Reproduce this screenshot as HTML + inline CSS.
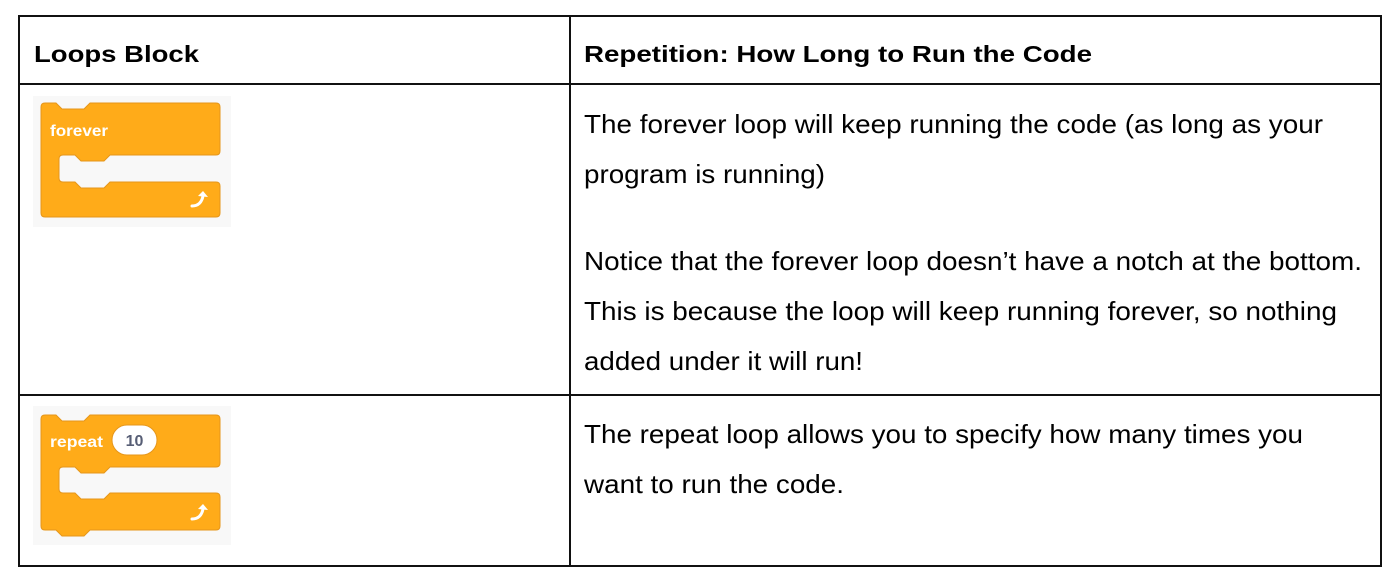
<!DOCTYPE html>
<html><head><meta charset="utf-8"><style>
html,body{margin:0;padding:0;background:#fff;width:1400px;height:580px;overflow:hidden}
</style></head><body>
<svg width="1400" height="580" viewBox="0 0 1400 580" xmlns="http://www.w3.org/2000/svg" font-family="Liberation Sans, Arial, sans-serif">
<rect x="0" y="0" width="1400" height="580" fill="#fff"/>
<g stroke="#111" stroke-width="2" fill="none">
<rect x="19" y="16" width="1362" height="550"/>
<line x1="19" y1="84" x2="1381" y2="84"/>
<line x1="19" y1="395" x2="1381" y2="395"/>
<line x1="570" y1="16" x2="570" y2="566"/>
</g>
<g font-weight="bold" font-size="23" fill="#000">
<text x="34" y="62" textLength="165" lengthAdjust="spacingAndGlyphs">Loops Block</text>
<text x="584" y="62" textLength="508" lengthAdjust="spacingAndGlyphs">Repetition: How Long to Run the Code</text>
</g>
<g font-size="26" fill="#000">
<text x="584" y="133" textLength="739" lengthAdjust="spacingAndGlyphs">The forever loop will keep running the code (as long as your</text>
<text x="584" y="183" textLength="241" lengthAdjust="spacingAndGlyphs">program is running)</text>
<text x="584" y="270" textLength="778" lengthAdjust="spacingAndGlyphs">Notice that the forever loop doesn’t have a notch at the bottom.</text>
<text x="584" y="320" textLength="753" lengthAdjust="spacingAndGlyphs">This is because the loop will keep running forever, so nothing</text>
<text x="584" y="370" textLength="279" lengthAdjust="spacingAndGlyphs">added under it will run!</text>
<text x="584" y="443" textLength="719" lengthAdjust="spacingAndGlyphs">The repeat loop allows you to specify how many times you</text>
<text x="584" y="493" textLength="260" lengthAdjust="spacingAndGlyphs">want to run the code.</text>
</g>
<!-- forever block -->
<rect x="33" y="96" width="198" height="131" fill="#f8f8f8"/>
<path d="M41,107 q0,-4 4,-4 H56 l6,6 h22 l6,-6 H216 q4,0 4,4 V151 q0,4 -4,4 H110 l-6,6 h-23 l-6,-6 H63 q-4,0 -4,4 V178 q0,4 4,4 H75 l6,6 h23 l6,-6 H216 q4,0 4,4 V213 q0,4 -4,4 H45 q-4,0 -4,-4 Z" fill="#ffab19" stroke="#e6961a" stroke-width="1"/>
<text x="50" y="136" font-size="16" font-weight="bold" fill="#fff" textLength="58" lengthAdjust="spacingAndGlyphs">forever</text>
<path d="M192,206 q9,0 11,-10" stroke="#fff" stroke-width="3" fill="none" stroke-linecap="round"/>
<path d="M198,196 l5,-5 l5,6 z" fill="#fff"/>
<!-- repeat block -->
<rect x="33" y="406" width="198" height="139" fill="#f8f8f8"/>
<path d="M41,419 q0,-4 4,-4 H56 l6,6 h22 l6,-6 H216 q4,0 4,4 V463 q0,4 -4,4 H110 l-6,6 h-23 l-6,-6 H63 q-4,0 -4,4 V489 q0,4 4,4 H75 l6,6 h23 l6,-6 H216 q4,0 4,4 V526 q0,4 -4,4 H90 l-6,6 h-22 l-6,-6 H45 q-4,0 -4,-4 Z" fill="#ffab19" stroke="#e6961a" stroke-width="1"/>
<text x="50" y="447" font-size="16" font-weight="bold" fill="#fff" textLength="53" lengthAdjust="spacingAndGlyphs">repeat</text>
<rect x="112" y="425" width="45" height="30" rx="15" fill="#fff" stroke="#e6961a" stroke-width="1"/>
<text x="134.5" y="446" font-size="16" font-weight="bold" text-anchor="middle" fill="#575e75">10</text>
<path d="M192,519 q9,0 11,-10" stroke="#fff" stroke-width="3" fill="none" stroke-linecap="round"/>
<path d="M198,509 l5,-5 l5,6 z" fill="#fff"/>
</svg>
</body></html>
